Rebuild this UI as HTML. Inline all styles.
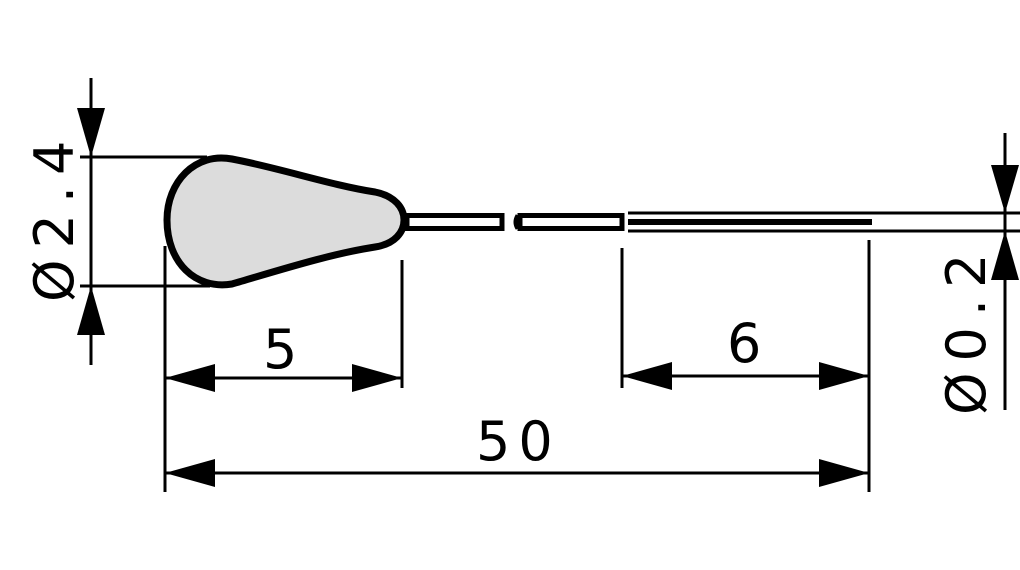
<!DOCTYPE html>
<html><head><meta charset="utf-8"><style>
html,body{margin:0;padding:0;background:#fff;}
svg{display:block;}
text{font-family:"DejaVu Sans","Liberation Sans",sans-serif;font-size:54px;fill:#000;}
</style></head><body>
<svg width="1020" height="570" viewBox="0 0 1020 570" xmlns="http://www.w3.org/2000/svg">
<g stroke="#000" fill="none" stroke-width="3">
<path d="M232 159 C280 168 330 185 375 192 C395 196 404 208 404 220 C404 232 395 244 375 247 C330 254 280 270 232 284 C195 290 167 262 167 220 C167 182 195 152 232 159 Z" fill="#dcdcdc" stroke-width="7"/>
<rect x="407" y="215.5" width="95" height="13" stroke-width="5" fill="#fff"/>
<path d="M518 215.5 Q514 222 518 228.5" stroke-width="5"/>
<rect x="520" y="215.5" width="102" height="13" stroke-width="5" fill="#fff"/>
<line x1="628" y1="213" x2="1020" y2="213"/>
<line x1="628" y1="231" x2="1020" y2="231"/>
<line x1="628" y1="222" x2="872" y2="222" stroke-width="6"/>
<line x1="91" y1="78" x2="91" y2="365"/>
<line x1="80" y1="157" x2="207" y2="157"/>
<line x1="80" y1="286" x2="210" y2="286"/>
<line x1="165" y1="246" x2="165" y2="492"/>
<line x1="402" y1="260" x2="402" y2="388"/>
<line x1="869" y1="240" x2="869" y2="492"/>
<line x1="622" y1="248" x2="622" y2="388"/>
<line x1="165" y1="378" x2="402" y2="378"/>
<line x1="165" y1="473" x2="869" y2="473"/>
<line x1="622" y1="376" x2="869" y2="376"/>
<line x1="1005" y1="133" x2="1005" y2="410"/>
</g>
<g fill="#000">
<polygon points="91,157 77,108 105,108"/>
<polygon points="91,286 77,335 105,335"/>
<polygon points="165,378 215,364 215,392"/>
<polygon points="402,378 352,364 352,392"/>
<polygon points="165,473 215,459 215,487"/>
<polygon points="869,473 819,459 819,487"/>
<polygon points="622,376 672,362 672,390"/>
<polygon points="869,376 819,362 819,390"/>
<polygon points="1005,213 991,165 1019,165"/>
<polygon points="1005,231 991,280 1019,280"/>
</g>
<text x="263" y="368">5</text>
<text x="727" y="362">6</text>
<text x="476" y="460" letter-spacing="8">50</text>
<text transform="translate(73,302) rotate(-90)" letter-spacing="11">Ø2.4</text>
<text transform="translate(985,415) rotate(-90)" letter-spacing="11">Ø0.2</text>
</svg>
</body></html>
